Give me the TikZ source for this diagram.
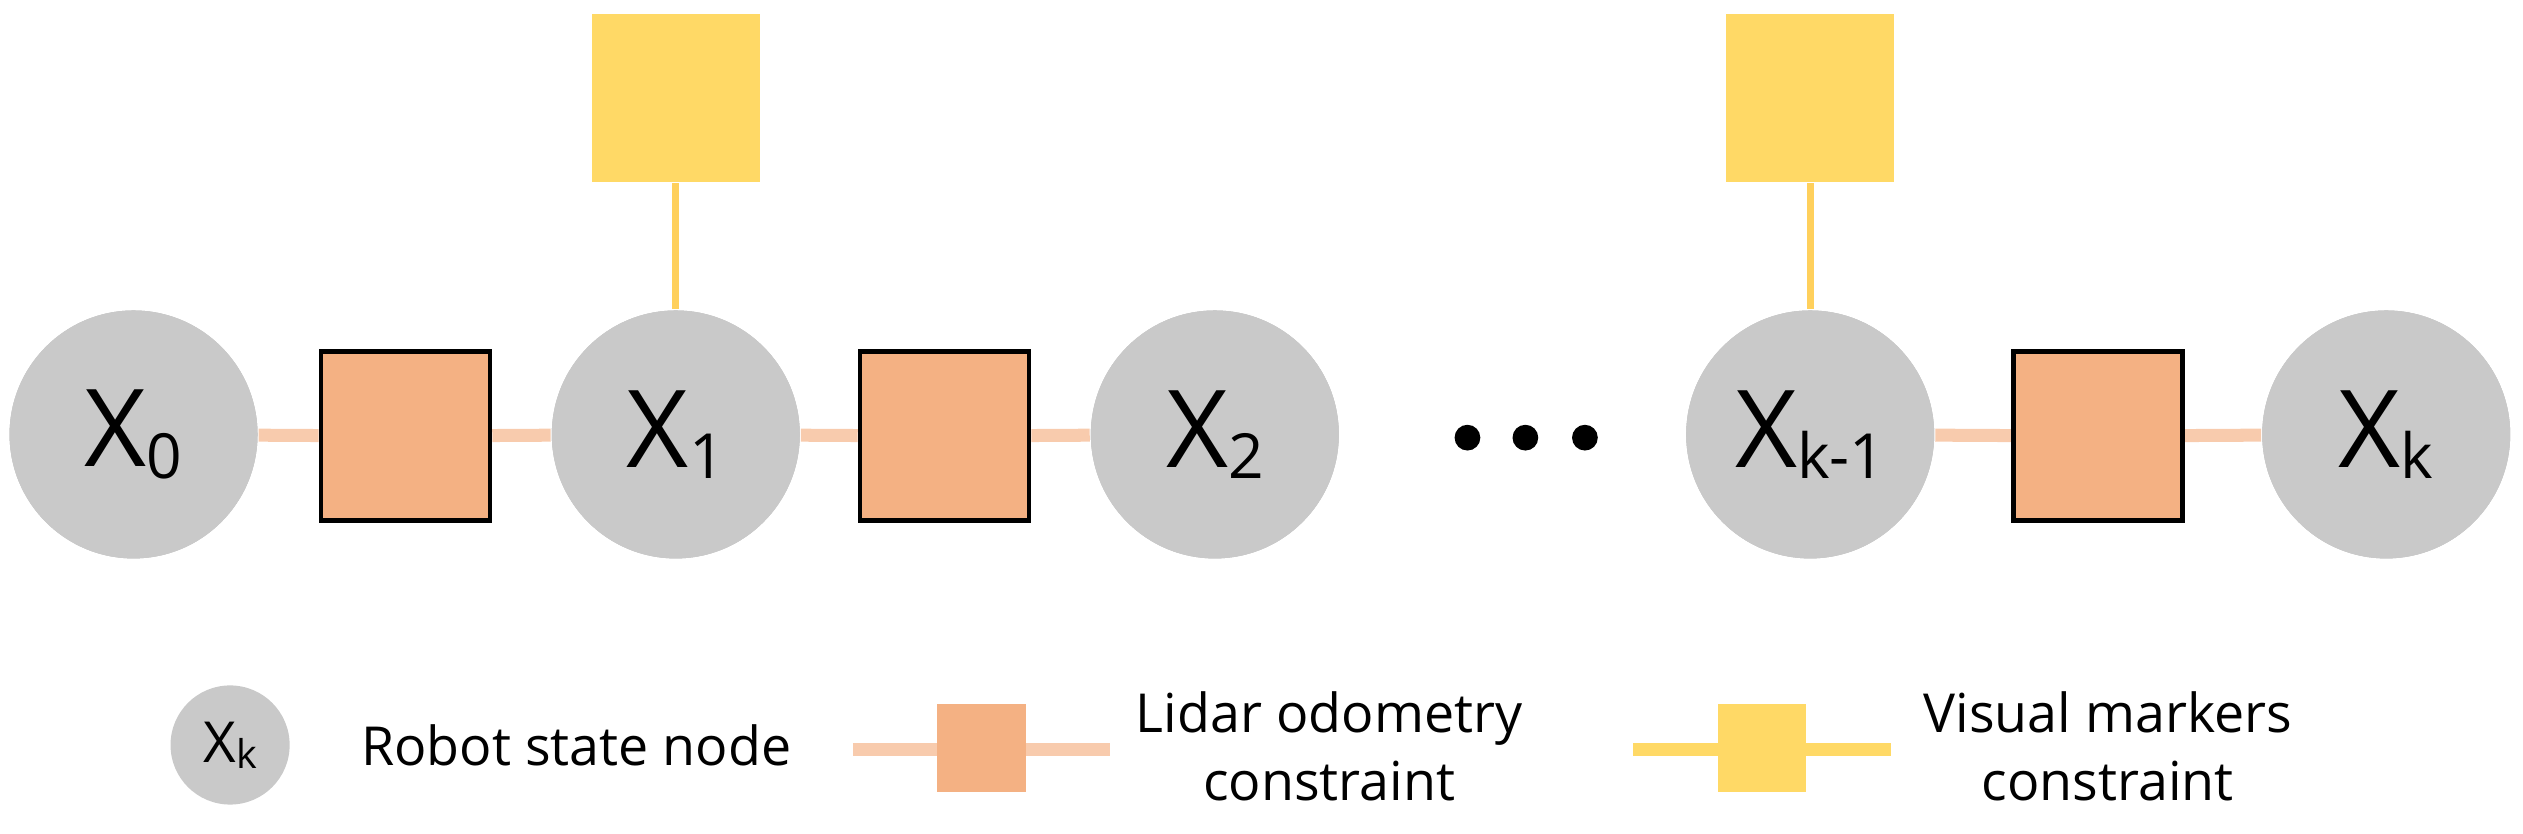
\documentclass[tikz,border=0pt]{standalone}
\usepackage{fontspec}
\setmainfont{Open Sans}
\definecolor{peach}{HTML}{F8CBAD}
\definecolor{orng}{HTML}{F4B183}
\definecolor{yel}{HTML}{FFD966}
\definecolor{gry}{HTML}{C9C9C9}
\begin{document}
\begin{tikzpicture}[x=0.01cm,y=-0.01cm,
  state/.style={circle,fill=gry,minimum size=154\pgflinewidth*0+1.54cm,inner sep=0pt,font=\fontsize{19}{20}\selectfont},
  odo/.style={rectangle,fill=orng,draw=black,line width=0.8pt,minimum size=1.05cm,inner sep=0pt},
  vis/.style={rectangle,fill=yel,minimum size=1.04cm,inner sep=0pt},
  pline/.style={draw=peach,line width=2.3pt},
  yline/.style={draw=yel!90!orange,line width=1.2pt},
  leg/.style={font=\fontsize{9.5}{12}\selectfont,align=center}]
\useasboundingbox (0,0) rectangle (1568,518);
\node[state] (x0) at (83,270) {X\raisebox{-0.2ex}{\fontsize{11}{12}\selectfont 0}};
\node[state] (x1) at (420,270) {X\raisebox{-0.2ex}{\fontsize{11}{12}\selectfont 1}};
\node[state] (x2) at (755,270) {X\raisebox{-0.2ex}{\fontsize{11}{12}\selectfont 2}};
\node[state] (xk1) at (1125,270) {X\raisebox{-0.2ex}{\fontsize{11}{12}\selectfont k-1}};
\node[state] (xk) at (1483,270) {X\raisebox{-0.2ex}{\fontsize{11}{12}\selectfont k}};
\node[odo] (o1) at (252,271) {};
\node[odo] (o2) at (587,271) {};
\node[odo] (o3) at (1304,271) {};
\node[vis] (v1) at (420,61) {};
\node[vis] (v2) at (1125,61) {};
\begin{scope}[on background layer/.style={}]
\end{scope}
\foreach \a/\b in {x0/o1,o1/x1,x1/o2,o2/x2,xk1/o3,o3/xk}
  \path[pline] (\a) -- (\b);
\path[yline] (v1) -- (x1);
\path[yline] (v2) -- (xk1);
\foreach \a in {x0,x1,x2,xk1,xk} \node[state] at (\a) {};
\node[state] at (x0) {X\raisebox{-0.2ex}{\fontsize{11}{12}\selectfont 0}};
\node[state] at (x1) {X\raisebox{-0.2ex}{\fontsize{11}{12}\selectfont 1}};
\node[state] at (x2) {X\raisebox{-0.2ex}{\fontsize{11}{12}\selectfont 2}};
\node[state] at (xk1) {X\raisebox{-0.2ex}{\fontsize{11}{12}\selectfont k-1}};
\node[state] at (xk) {X\raisebox{-0.2ex}{\fontsize{11}{12}\selectfont k}};
\node[odo] at (o1) {}; \node[odo] at (o2) {}; \node[odo] at (o3) {};
\node[vis] at (v1) {}; \node[vis] at (v2) {};
\foreach \x/\n in {912/d1,948/d2,985/d3} \fill (\x,272) circle (8);
% legend
\node[circle,fill=gry,minimum size=0.74cm,inner sep=0pt,font=\fontsize{10}{12}\selectfont] (lx) at (143,463) {X\raisebox{-0.2ex}{\fontsize{7}{8}\selectfont k}};
\node[leg,anchor=west] (lt1) at (212,463) {Robot state node};
\coordinate (la) at (530,466); \coordinate (lb) at (690,466);
\path[draw=peach,line width=2.3pt] (la) -- (lb);
\node[rectangle,fill=orng,minimum size=0.55cm,inner sep=0pt] (lo) at (610,465) {};
\node[leg] (lt2) at (826,464) {Lidar odometry\\constraint};
\coordinate (ya) at (1015,466); \coordinate (yb) at (1175,466);
\path[draw=yel,line width=2.3pt] (ya) -- (yb);
\node[rectangle,fill=yel,minimum size=0.55cm,inner sep=0pt] (lv) at (1095,465) {};
\node[leg] (lt3) at (1310,464) {Visual markers\\constraint};
\end{tikzpicture}
\end{document}
